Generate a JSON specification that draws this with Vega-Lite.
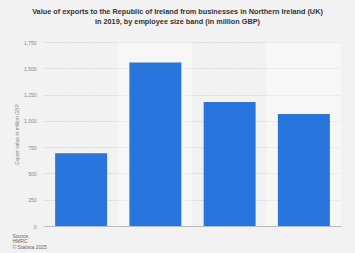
{
  "$schema": "https://vega.github.io/schema/vega-lite/v6.json",
  "width": 297,
  "height": 184,
  "autosize": "none",
  "padding": {"left": 44, "top": 42, "right": 14, "bottom": 27},
  "background": "#f2f2f2",
  "title": {
    "text": ["Value of exports to the Republic of Ireland from businesses in Northern Ireland (UK)", "in 2019, by employee size band (in million GBP)"],
    "anchor": "middle",
    "dx": -15,
    "offset": 15,
    "font": "Liberation Sans",
    "fontSize": 7.3,
    "fontWeight": "bold",
    "color": "#333333",
    "lineHeight": 10
  },
  "data": {
    "values": [
      {"band": "0-9", "value": 691},
      {"band": "10-49", "value": 1555},
      {"band": "50-249", "value": 1180},
      {"band": "250+", "value": 1066}
    ]
  },
  "layer": [
    {
      "transform": [{"filter": {"field": "band", "oneOf": ["10-49", "250+"]}}],
      "mark": {"type": "bar", "color": "#ffffff", "opacity": 0.4},
      "encoding": {
        "x": {"field": "band", "type": "nominal", "sort": ["0-9", "10-49", "50-249", "250+"],
              "scale": {"domain": ["0-9", "10-49", "50-249", "250+"], "paddingInner": 0, "paddingOuter": 0},
              "axis": null}
      }
    },
    {
      "mark": {"type": "bar", "color": "#2876dd"},
      "encoding": {
        "x": {"field": "band", "type": "nominal", "sort": ["0-9", "10-49", "50-249", "250+"],
              "scale": {"paddingInner": 0.3, "paddingOuter": 0.15},
              "axis": {"labels": false, "ticks": false, "domainColor": "#bbbbbb", "domainWidth": 1,
                       "title": ["Source", "HMRC", "© Statista 2025"],
                       "titleAnchor": "start", "titleAlign": "left", "titleBaseline": "top",
                       "titleX": -32, "titleY": 7, "titleFont": "Liberation Sans", "titleFontSize": 5,
                       "titleFontWeight": "normal", "titleColor": "#666666", "titleLineHeight": 5.5}},
        "y": {"field": "value", "type": "quantitative",
              "scale": {"domain": [0, 1750], "nice": false},
              "axis": {"values": [0, 250, 500, 750, 1000, 1250, 1500, 1750], "format": ",.0f",
                       "ticks": false, "domain": false, "labelPadding": 8,
                       "labelFont": "Liberation Sans", "labelFontSize": 5, "labelColor": "#888888",
                       "gridColor": "#d9d9d9", "gridDash": [2, 1], "gridWidth": 1,
                       "title": "Export value in million GBP", "titleFont": "Liberation Sans",
                       "titleFontSize": 5, "titleFontWeight": "normal", "titleColor": "#888888",
                       "titlePadding": 4}}
      }
    }
  ],
  "resolve": {"scale": {"x": "independent"}},
  "config": {"view": {"stroke": null}}
}
